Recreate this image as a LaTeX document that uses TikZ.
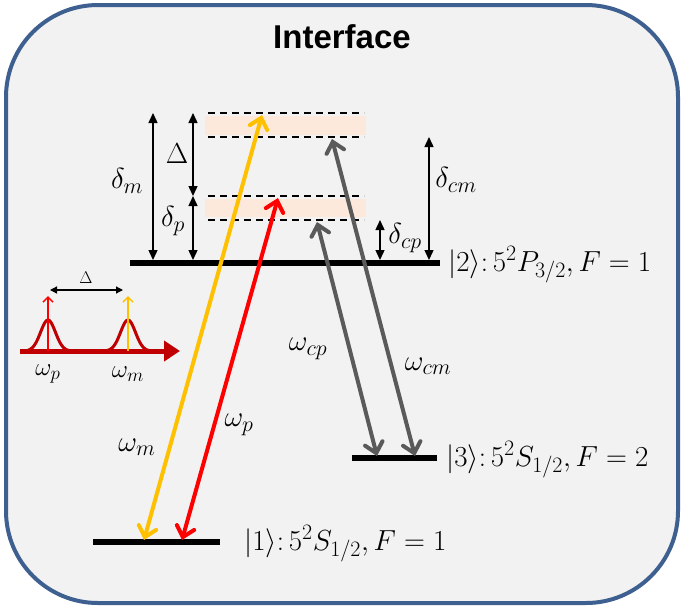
\RequirePackage{fix-cm}
\documentclass[tikz,border=0pt]{standalone}
\usepackage{fontspec}
\setsansfont{Liberation Sans}
\usetikzlibrary{arrows.meta}
\DeclareMathSizes{29}{29}{22}{17}
\DeclareMathSizes{25}{25}{19}{15}
\definecolor{frame}{HTML}{3E6090}
\definecolor{bg}{HTML}{F2F2F2}
\definecolor{band}{HTML}{FCE9DC}
\definecolor{ylw}{HTML}{FFC000}
\definecolor{gry}{HTML}{5A5A5A}
\definecolor{dred}{HTML}{C00000}
\tikzset{
  level/.style={line width=6pt},
  dashlev/.style={dashed, line width=1.4pt, dash pattern=on 7pt off 5pt},
  bandbox/.style={fill=band, draw=none},
  trans/.style={line width=4pt, {Straight Barb[length=10pt,width=18pt,line cap=round]}-{Straight Barb[length=10pt,width=18pt,line cap=round]}},
  dim/.style={line width=1.4pt, {Triangle[length=10pt,width=9pt]}-{Triangle[length=10pt,width=9pt]}},
  lbl/.style={font=\fontsize{29}{32}\selectfont, inner sep=0pt},
  slbl/.style={font=\fontsize{25}{28}\selectfont, inner sep=0pt},
}
\begin{document}
\begin{tikzpicture}[x=1pt,y=-1pt]
\useasboundingbox (0,0) rectangle (685,611);
\draw[frame, line width=4pt, fill=bg, rounded corners=92pt] (6,5) rectangle (678,603);
\node[font=\sffamily\bfseries\fontsize{33}{36}\selectfont, inner sep=0pt] (title) at (342,37) {Interface};

% bands
\fill[bandbox] (205,116) rectangle (366,135);
\fill[bandbox] (205,199) rectangle (366,217);
\coordinate (du1a) at (208,113); \coordinate (du1b) at (364,113);
\coordinate (du2a) at (208,137); \coordinate (du2b) at (364,137);
\coordinate (dl1a) at (208,196); \coordinate (dl1b) at (364,196);
\coordinate (dl2a) at (208,220); \coordinate (dl2b) at (364,220);
\draw[dashlev] (du1a) -- (du1b);
\draw[dashlev] (du2a) -- (du2b);
\draw[dashlev] (dl1a) -- (dl1b);
\draw[dashlev] (dl2a) -- (dl2b);

% levels
\coordinate (L2a) at (130,263); \coordinate (L2b) at (440,263);
\coordinate (L3a) at (352,458); \coordinate (L3b) at (437,458);
\coordinate (L1a) at (93,542);  \coordinate (L1b) at (220,542);
\draw[level] (L2a) -- (L2b);
\draw[level] (L3a) -- (L3b);
\draw[level] (L1a) -- (L1b);

\node[lbl, anchor=west] (lab2) at (448,265) {$|2\rangle\colon 5^2P_{3/2}, F=1$};
\node[lbl, anchor=west] (lab3) at (446,460) {$|3\rangle\colon 5^2S_{1/2}, F=2$};
\node[lbl, anchor=west] (lab1) at (244,544) {$|1\rangle\colon 5^2S_{1/2}, F=1$};

% detuning arrows
\coordinate (dmt) at (153,113); \coordinate (dmb) at (153,260);
\coordinate (Dt) at (193,113);  \coordinate (Db) at (193,196);
\coordinate (dpt) at (193,196); \coordinate (dpb) at (193,260);
\coordinate (dcmt) at (429,137); \coordinate (dcmb) at (429,260);
\coordinate (dcpt) at (380,220); \coordinate (dcpb) at (380,260);
\draw[dim] (dmt) -- (dmb);
\draw[dim] (Dt) -- (Db);
\draw[dim] (dpt) -- (dpb);
\draw[dim] (dcmt) -- (dcmb);
\draw[dim] (dcpt) -- (dcpb);
\node[lbl] (ldm) at (127,181) {$\delta_m$};
\node[lbl] (lD) at (177,154) {$\Delta$};
\node[lbl] (ldp) at (173,221) {$\delta_p$};
\node[lbl] (ldcm) at (456,180) {$\delta_{cm}$};
\node[lbl] (ldcp) at (405,238) {$\delta_{cp}$};

% transitions
\coordinate (ym1) at (144,540); \coordinate (ym2) at (262,115);
\coordinate (rp1) at (182,540); \coordinate (rp2) at (278,198);
\coordinate (cm1) at (332,139); \coordinate (cm2) at (415,456);
\coordinate (cp1) at (317,222); \coordinate (cp2) at (377,456);
\draw[trans, ylw] (ym1) -- (ym2);
\draw[trans, red] (rp1) -- (rp2);
\draw[trans, gry] (cm1) -- (cm2);
\draw[trans, gry] (cp1) -- (cp2);
\node[lbl] (lwm) at (137,447) {$\omega_m$};
\node[lbl] (lwp) at (239,425) {$\omega_p$};
\node[lbl] (lwcp) at (308,349) {$\omega_{cp}$};
\node[lbl] (lwcm) at (428,366) {$\omega_{cm}$};

% inset spectrum
\coordinate (sa) at (20,351); \coordinate (sb) at (180,351);
\draw[dred, line width=3pt, domain=28:150, samples=120, smooth]
  plot (\x, {351 - 31*exp(-((\x-48)/10.5)^2) - 31*exp(-((\x-128)/10.5)^2)});
\draw[dred, line width=5pt, -{Triangle[length=16pt,width=20pt]}] (sa) -- (sb);
\coordinate (pa) at (48,351); \coordinate (pb) at (48,296);
\coordinate (ma) at (128,351); \coordinate (mb) at (128,296);
\draw[red, line width=1.5pt, -{Straight Barb[length=5pt,width=10pt]}] (pa) -- (pb);
\draw[ylw, line width=1.5pt, -{Straight Barb[length=5pt,width=10pt]}] (ma) -- (mb);
\coordinate (Da) at (50,290); \coordinate (Db2) at (123,290);
\draw[line width=1.2pt, {Triangle[length=7pt,width=7pt]}-{Triangle[length=7pt,width=7pt]}] (Da) -- (Db2);
\node[font=\fontsize{17}{19}\selectfont, inner sep=0pt] (lDs) at (86,278) {$\Delta$};
\node[slbl] (lsp) at (48,374) {$\omega_p$};
\node[slbl] (lsm) at (128,374) {$\omega_m$};
\end{tikzpicture}
\end{document}
